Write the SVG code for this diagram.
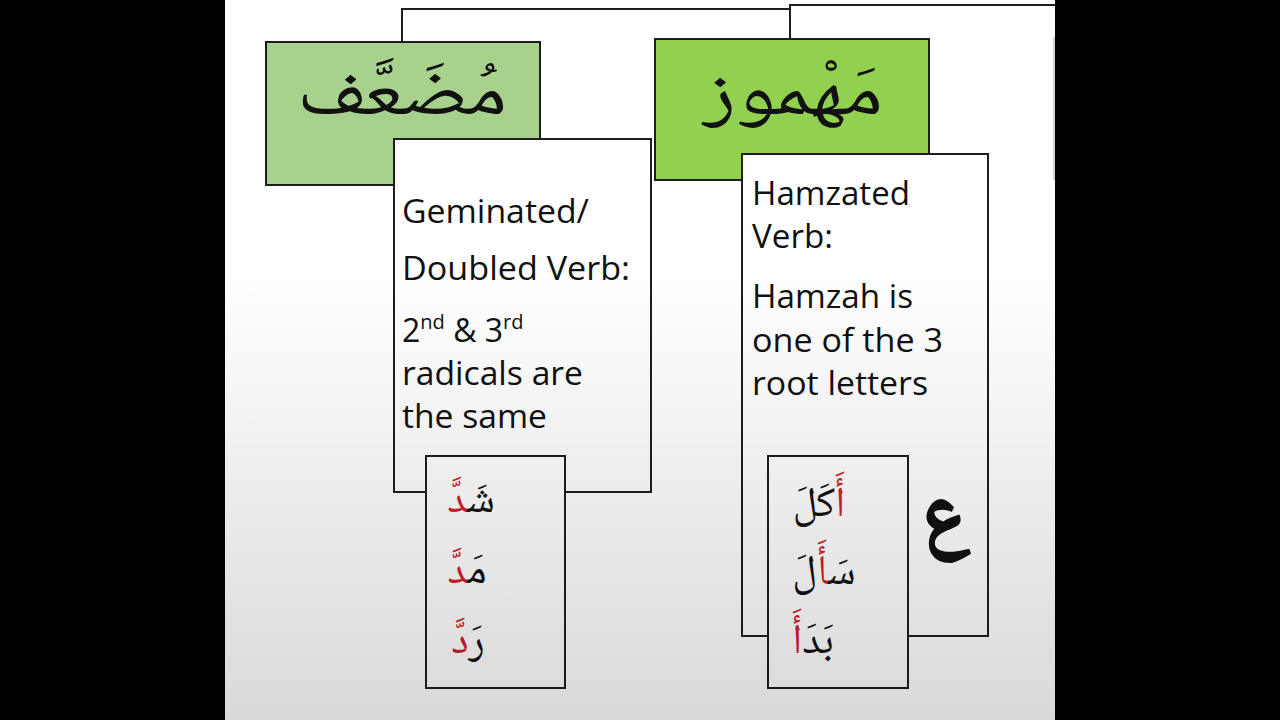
<svg xmlns="http://www.w3.org/2000/svg" width="1280" height="720" viewBox="0 0 1280 720">
  <defs>
    <linearGradient id="shade" x1="0" y1="0" x2="0" y2="720" gradientUnits="userSpaceOnUse">
      <stop offset="0.38" stop-color="#000" stop-opacity="0"/>
      <stop offset="1" stop-color="#000" stop-opacity="0.15"/>
    </linearGradient>
    <style>
      .box { fill: #ffffff; stroke: #1e1e1e; stroke-width: 2; }
      .g1 { fill: #a9d18e; stroke: #1e1e1e; stroke-width: 2; }
      .g2 { fill: #92d050; stroke: #1e1e1e; stroke-width: 2; }
      .en { font-family: "Open Sans", "Noto Sans", "Liberation Sans", sans-serif; font-size: 32px; fill: #111; }
      .sup { font-size: 20px; }
      .ar { font-family: "Noto Naskh Arabic", "Noto Sans Arabic", "DejaVu Sans", sans-serif; fill: #111; }
      .red { fill: #d0202a; }
      .frag { fill: none; stroke: #1e1e1e; stroke-width: 2; }
    </style>
  </defs>

  <rect x="0" y="0" width="1280" height="720" fill="#000"/>
  <rect x="225" y="0" width="830" height="720" fill="#ffffff"/>

  <g id="connectors">
    <path class="frag" d="M402,42 V9 H790"/>
    <path class="frag" d="M790,39 V5 H1055"/>
    <path d="M1054,37 V180" stroke="#c4c4c4" stroke-width="1.5" fill="none"/>
  </g>

  <g id="mudaaf">
    <rect class="g1" x="266" y="42" width="274" height="143"/>
    <text class="ar" x="297" y="114" font-size="68" textLength="210" lengthAdjust="spacingAndGlyphs">مُضَعَّف</text>
  </g>

  <g id="mahmuz">
    <rect class="g2" x="655" y="39" width="274" height="141"/>
    <text class="ar" x="703" y="114" font-size="68" textLength="180" lengthAdjust="spacingAndGlyphs">مَهْموز</text>
  </g>

  <g id="geminated">
    <rect class="box" x="394" y="139" width="257" height="353"/>
    <text class="en" x="402" y="223" textLength="187" lengthAdjust="spacingAndGlyphs">Geminated/</text>
    <text class="en" x="402" y="280" textLength="228" lengthAdjust="spacingAndGlyphs">Doubled Verb:</text>
    <text class="en" x="402" y="342">2<tspan class="sup" dy="-13">nd</tspan><tspan dy="13"> &amp; 3</tspan><tspan class="sup" dy="-13">rd</tspan></text>
    <text class="en" x="402" y="385" textLength="181" lengthAdjust="spacingAndGlyphs">radicals are</text>
    <text class="en" x="402" y="428" textLength="145" lengthAdjust="spacingAndGlyphs">the same</text>
  </g>

  <g id="hamzated">
    <rect class="box" x="742" y="154" width="246" height="482"/>
    <text class="en" x="752" y="205" textLength="158" lengthAdjust="spacingAndGlyphs">Hamzated</text>
    <text class="en" x="752" y="248" textLength="81" lengthAdjust="spacingAndGlyphs">Verb:</text>
    <text class="en" x="752" y="308" textLength="161" lengthAdjust="spacingAndGlyphs">Hamzah is</text>
    <text class="en" x="752" y="352" textLength="191" lengthAdjust="spacingAndGlyphs">one of the 3</text>
    <text class="en" x="752" y="395" textLength="176" lengthAdjust="spacingAndGlyphs">root letters</text>
    <text class="ar" x="945" y="538" font-size="80" font-weight="bold" text-anchor="middle" stroke="#111" stroke-width="2">ع</text>
  </g>

  <g id="examples-doubled">
    <rect class="box" x="426" y="456" width="139" height="232"/>
    <text class="ar" x="471" y="512" font-size="42" text-anchor="middle"><tspan>شَ</tspan><tspan class="red">دَّ</tspan></text>
    <text class="ar" x="467" y="583" font-size="42" text-anchor="middle"><tspan>مَ</tspan><tspan class="red">دَّ</tspan></text>
    <text class="ar" x="468" y="653" font-size="42" text-anchor="middle"><tspan>رَ</tspan><tspan class="red">دَّ</tspan></text>
  </g>

  <g id="examples-hamzated">
    <rect class="box" x="768" y="456" width="140" height="232"/>
    <text class="ar" x="819" y="516" font-size="42" text-anchor="middle"><tspan class="red">أَ</tspan><tspan>كَلَ</tspan></text>
    <text class="ar" x="824" y="584" font-size="42" text-anchor="middle"><tspan>سَ</tspan><tspan class="red">أَ</tspan><tspan>لَ</tspan></text>
    <text class="ar" x="813" y="653" font-size="42" text-anchor="middle"><tspan>بَدَ</tspan><tspan class="red">أَ</tspan></text>
  </g>

  <rect x="225" y="0" width="830" height="720" fill="url(#shade)" pointer-events="none"/>
</svg>
